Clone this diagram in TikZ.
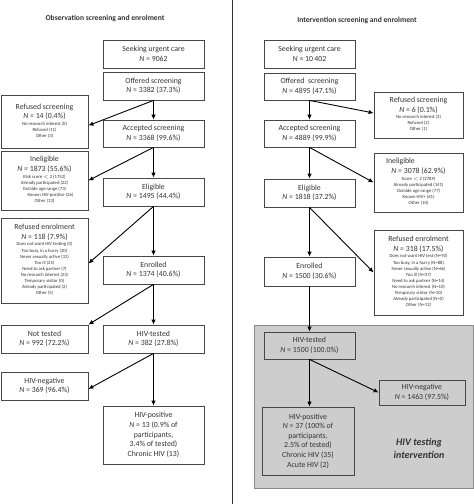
\documentclass[tikz,border=0pt]{standalone}
\usepackage{fontspec}
\setmainfont{Carlito}
\usepackage{xcolor}
\definecolor{boxline}{HTML}{474747}
\definecolor{inkgray}{HTML}{333333}
\definecolor{panelgray}{HTML}{CDCDCD}
\definecolor{panelline}{HTML}{8A8A8A}
\usetikzlibrary{positioning, arrows.meta}
\newcommand{\smlines}[1]{{\fontsize{4.7}{6.1}\selectfont\renewcommand{\arraystretch}{1}\setlength{\tabcolsep}{0pt}\begin{tabular}[t]{c}#1\end{tabular}}}
\newcommand{\Nv}{\textit{N}}

\begin{document}
\begin{tikzpicture}[x=1pt, y=-1pt]
    \tikzstyle{stagenode} = [draw=boxline, line width=0.8pt, fill=white, text=inkgray, align=center, inner sep=1pt, font=\fontsize{7.8}{9.6}\selectfont]
    \tikzstyle{sidenode} = [stagenode, minimum width=87pt]
    \tikzstyle{innode} = [stagenode, fill=panelgray]
    \tikzstyle{titlenode} = [text=inkgray, font=\fontsize{7.6}{9}\selectfont\bfseries]
    \tikzstyle{panelnode} = [draw=panelline, fill=panelgray, line width=1pt, inner sep=0pt]
    \tikzstyle{flow} = [-{Latex[length=5pt,width=4.5pt]}, line width=0.9pt, black]

    \useasboundingbox (0,0) rectangle (474,504);
    \draw [line width=1pt, black!80] (232,0) -- (232,504);

    % observation arm
    \node [titlenode] (title1) at (105,18) {Observation screening and enrolment};
    \node [stagenode, minimum width=101pt, minimum height=28pt] (seek1) at (153.5,54) {Seeking urgent care\\\Nv{} = 9062};
    \node [stagenode, minimum width=101pt, minimum height=28pt] (offer1) at (153.5,86) {Offered screening\\\Nv{} = 3382 (37.3\%)};
    \node [stagenode, minimum width=101pt, minimum height=27pt] (accept1) at (153.5,133.5) {Accepted screening\\\Nv{} = 3368 (99.6\%)};
    \node [stagenode, minimum width=101pt, minimum height=28pt] (elig1) at (153.5,192) {Eligible\\\Nv{} = 1495 (44.4\%)};
    \node [stagenode, minimum width=101pt, minimum height=28pt] (enrol1) at (153.5,270) {Enrolled\\\Nv{} = 1374 (40.6\%)};
    \node [stagenode, minimum width=101pt, minimum height=28pt] (test1) at (153.5,339) {HIV-tested\\\Nv{} = 382 (27.8\%)};
    \node [stagenode, minimum width=101pt, minimum height=58pt] (pos1) at (153.5,435) {HIV-positive\\\Nv{} = 13 (0.9\% of\\participants,\\3.4\% of tested)\\Chronic HIV (13)};

    \node [sidenode, minimum height=53pt] (refscr1) at (44.5,121.5) {Refused screening\\\Nv{} = 14 (0.4\%)\\[-3pt]\smlines{No research interest (0)\\Refused (11)\\Other (3)}};
    \node [sidenode, minimum height=59pt] (inel1) at (44.5,180.5) {Ineligible\\\Nv{} = 1873 (55.6\%)\\[-3pt]\smlines{Risk score {$<$} 2 (1752)\\Already participated (22)\\Outside age range (73)\\\hspace*{12pt}Known HIV-positive (26)\\Other (13)}};
    \node [sidenode, minimum height=85pt] (refenr1) at (44.5,260.5) {Refused enrolment\\\Nv{} = 118 (7.9\%)\\[-3pt]\smlines{Does not want HIV testing (0)\\Too busy, in a hurry (30)\\Never sexually active (31)\\Too ill (25)\\Need to ask partner (7)\\No research interest (23)\\Temporary visitor (0)\\Already participated (2)\\Other (5)}};
    \node [sidenode, minimum height=28pt] (nottest1) at (44.5,339) {Not tested\\\Nv{} = 992 (72.2\%)};
    \node [sidenode, minimum height=28pt] (neg1) at (44.5,386) {HIV-negative\\\Nv{} = 369 (96.4\%)};

    \draw [flow] (offer1.south) -- ([yshift=-4pt]refscr1.east);
    \draw [flow] (offer1.south) -- (accept1.north);
    \draw [flow] (accept1.south) -- (elig1.north);
    \draw [flow] (elig1.south) -- (enrol1.north);
    \draw [flow] (enrol1.south) -- (test1.north);
    \draw [flow] (test1.south) -- (pos1.north);
    \draw [flow] (accept1.south) -- (inel1.east);
    \draw [flow] (elig1.south) -- ([yshift=-3pt]refenr1.east);
    \draw [flow] (enrol1.south) -- (nottest1.north east);
    \draw [flow] (test1.south) -- ([yshift=-3pt]neg1.east);

    % intervention arm
    \node [titlenode] (title2) at (357,20) {Intervention screening and enrolment};
    \node [panelnode, minimum width=219pt, minimum height=163pt] (panel) at (363.5,406.5) {};
    \node [text=inkgray, align=center, font=\fontsize{10}{13}\selectfont\bfseries\itshape] (panellabel) at (419,448.5) {HIV testing\\intervention};

    \node [stagenode, minimum width=91pt, minimum height=28pt] (seek2) at (309.5,54) {Seeking urgent care\\\Nv{} = 10\,402};
    \node [stagenode, minimum width=91pt, minimum height=27pt] (offer2) at (309.5,86.5) {Offered\ \ screening\\\Nv{} = 4895 (47.1\%)};
    \node [stagenode, minimum width=91pt, minimum height=27pt] (accept2) at (309.5,133.5) {Accepted screening\\\Nv{} = 4889 (99.9\%)};
    \node [stagenode, minimum width=91pt, minimum height=28pt] (elig2) at (309.5,193) {Eligible\\\Nv{} = 1818 (37.2\%)};
    \node [stagenode, minimum width=91pt, minimum height=29pt] (enrol2) at (309.5,271.5) {Enrolled\\\Nv{} = 1500 (30.6\%)};
    \node [innode, minimum width=91pt, minimum height=27pt] (test2) at (309.5,345.5) {HIV-tested\\\Nv{} = 1500 (100.0\%)};
    \node [innode, minimum width=92pt, minimum height=68pt] (pos2) at (308,441) {HIV-positive\\\Nv{} = 37 (100\% of\\participants,\\2.5\% of tested)\\Chronic HIV (35)\\Acute HIV (2)};

    \node [sidenode, minimum width=89pt, minimum height=46pt] (refscr2) at (418.5,115) {Refused screening\\\Nv{} = 6 (0.1\%)\\[-3pt]\smlines{No research interest (3)\\Refused (2)\\Other (1)}};
    \node [sidenode, minimum width=89pt, minimum height=59pt] (inel2) at (418.5,182.5) {Ineligible\hspace*{36pt}\\\Nv{} = 3078 (62.9\%)\hspace*{10pt}\\[-3pt]\smlines{Score {$<$} 2 (2789)\\Already participated (141)\\Outside age range (77)\\Known HIV+ (61)\\Other (10)}};
    \node [sidenode, minimum width=89pt, minimum height=85pt] (refenr2) at (418.5,272.5) {Refused enrolment\\\Nv{} = 318 (17.5\%)\\[-3pt]\smlines{Does not want HIV test (N=93)\\Too busy, in a hurry (N=88)\\Never sexually active (N=66)\\Too ill (N=37)\\Need to ask partner (N=14)\\No research interest (N=10)\\Temporary visitor (N=10)\\Already participated (N=0)\\Other (N=12)}};
    \node [innode, minimum width=86pt, minimum height=25pt] (neg2) at (422,392.5) {HIV-negative\\\Nv{} = 1463 (97.5\%)};

    \draw [flow] (offer2.south) -- ([yshift=2pt]refscr2.west);
    \draw [flow] (offer2.south) -- (accept2.north);
    \draw [flow] (accept2.south) -- (elig2.north);
    \draw [flow] (elig2.south) -- (enrol2.north);
    \draw [flow] (enrol2.south) -- (test2.north);
    \draw [flow] (test2.south) -- (pos2.north -| test2.south);
    \draw [flow] (accept2.south) -- (inel2.west);
    \draw [flow] (elig2.south) -- (refenr2.west);
    \draw [flow] (test2.south) -- (neg2.west);
\end{tikzpicture}
\end{document}
